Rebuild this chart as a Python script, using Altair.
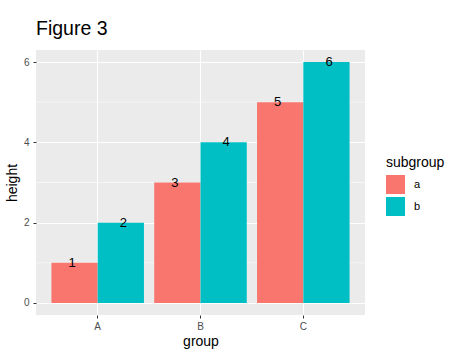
import altair as alt
import pandas as pd

groups = ["A", "A", "B", "B", "C", "C"]
subgroups = ["a", "b", "a", "b", "a", "b"]
heights = [1, 2, 3, 4, 5, 6]
major_ticks = [0, 2, 4, 6]
minor_ticks = [1, 3, 5]
colors = ["#F8766D", "#00BFC4"]

df = pd.DataFrame({"group": groups, "subgroup": subgroups, "height": heights})
minor = pd.DataFrame({"v": minor_ticks})

FONT = "Liberation Sans"

xscale = alt.Scale(paddingInner=0.1, paddingOuter=0.15)
yscale = alt.Scale(domain=[-0.3, 6.3], nice=False, zero=False)

xaxis = alt.Axis(
    title="group", labelAngle=0, domain=False, grid=True, gridColor="white",
    gridWidth=1.1, bandPosition=0.5, tickColor="#333333", tickSize=3,
    labelColor="#4D4D4D", labelFontSize=10, labelPadding=3, titleFontSize=14,
    titleFontWeight="normal", titleColor="black", titlePadding=3,
    labelFont=FONT, titleFont=FONT,
)
yaxis = alt.Axis(
    title="height", values=major_ticks, domain=False, grid=True, gridColor="white",
    gridWidth=1.1, tickColor="#333333", tickSize=3, labelColor="#4D4D4D",
    labelFontSize=10, labelPadding=4, titleFontSize=14, titleFontWeight="normal",
    titleColor="black", titlePadding=4, labelFont=FONT, titleFont=FONT,
)

minor_rules = alt.Chart(minor).mark_rule(color="white", strokeWidth=0.55).encode(
    y=alt.Y("v:Q", scale=yscale, axis=yaxis)
)

bars = alt.Chart(df).mark_bar().encode(
    x=alt.X("group:N", scale=xscale, axis=xaxis),
    xOffset=alt.XOffset("subgroup:N", scale=alt.Scale(paddingInner=0, paddingOuter=0)),
    y=alt.Y("height:Q", scale=yscale, axis=yaxis),
    y2=alt.datum(0),
    color=alt.Color(
        "subgroup:N",
        scale=alt.Scale(domain=["a", "b"], range=colors),
        legend=alt.Legend(
            title="subgroup", orient="none", legendX=350, legendY=106,
            symbolType="square", symbolSize=361, symbolStrokeWidth=0,
            symbolOpacity=1, rowPadding=3, labelOffset=9, titlePadding=5,
            titleFontSize=14, titleFontWeight="normal", titleColor="black",
            labelFontSize=11, labelColor="black", titleFont=FONT, labelFont=FONT,
            padding=0,
        ),
    ),
)

labels = alt.Chart(df).mark_text(
    baseline="middle", align="center", fontSize=13, font=FONT, color="black"
).encode(
    x=alt.X("group:N", scale=xscale, axis=xaxis),
    xOffset=alt.XOffset("subgroup:N", scale=alt.Scale(type="point", padding=0.4)),
    y=alt.Y("height:Q", scale=yscale, axis=yaxis),
    text=alt.Text("height:Q"),
)

chart = (
    alt.layer(minor_rules, bars, labels)
    .resolve_scale(xOffset="independent")
    .properties(
        width=329, height=265,
        background="white",
        autosize=alt.AutoSizeParams(type="none"),
        padding={"left": 36, "top": 50, "right": 109, "bottom": 40},
        title=alt.TitleParams(
            "Figure 3", anchor="start", frame="group", fontSize=19.5,
            fontWeight="normal", font=FONT, color="black", offset=11,
        ),
    )
    .configure_view(fill="#EBEBEB", strokeWidth=0, stroke="transparent")
)

chart.save("out.html", embed_options={"renderer": "svg", "actions": False})
